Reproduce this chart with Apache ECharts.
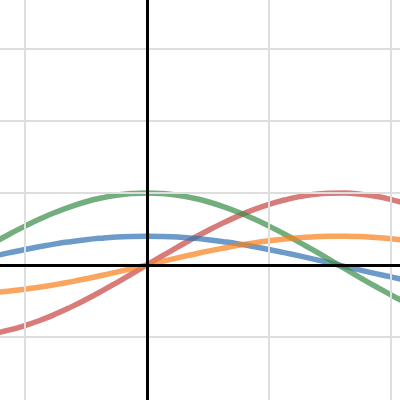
<!DOCTYPE html>
<html>
<head>
<meta charset="utf-8">
<script src="https://cdn.jsdelivr.net/npm/echarts@6/dist/echarts.min.js"></script>
<style>html,body{margin:0;padding:0;background:#fff}#c{width:400px;height:400px}</style>
</head>
<body>
<div id="c"></div>
<script>
var xs = [-1.25, -1.125, -1, -0.875, -0.75, -0.625, -0.5, -0.375, -0.25, -0.125, 0, 0.125, 0.25, 0.375, 0.5, 0.625, 0.75, 0.875, 1, 1.125, 1.25, 1.375, 1.5, 1.625, 1.75, 1.875, 2, 2.125, 2.25];
var redVals = [-0.949, -0.902, -0.841, -0.768, -0.682, -0.585, -0.479, -0.366, -0.247, -0.125, 0, 0.125, 0.247, 0.366, 0.479, 0.585, 0.682, 0.768, 0.841, 0.902, 0.949, 0.981, 0.997, 0.999, 0.984, 0.954, 0.909, 0.851, 0.778];
var greenVals = [0.315, 0.431, 0.540, 0.641, 0.732, 0.811, 0.878, 0.930, 0.969, 0.992, 1.0, 0.992, 0.969, 0.930, 0.878, 0.811, 0.732, 0.641, 0.540, 0.431, 0.315, 0.195, 0.071, -0.054, -0.178, -0.299, -0.416, -0.526, -0.628];
var orangeVals = [-0.380, -0.361, -0.337, -0.307, -0.273, -0.234, -0.192, -0.146, -0.099, -0.050, 0, 0.050, 0.099, 0.146, 0.192, 0.234, 0.273, 0.307, 0.337, 0.361, 0.380, 0.392, 0.399, 0.400, 0.394, 0.382, 0.364, 0.340, 0.311];
var blueVals = [0.126, 0.172, 0.216, 0.256, 0.293, 0.324, 0.351, 0.372, 0.388, 0.397, 0.400, 0.397, 0.388, 0.372, 0.351, 0.324, 0.293, 0.256, 0.216, 0.172, 0.126, 0.078, 0.028, -0.022, -0.071, -0.120, -0.166, -0.210, -0.251];
var gridXs = [-1, 1, 2];
var gridYs = [-1, 1, 2, 3];
var xMin = -1.205, xMax = 2.074, yMin = -1.875, yMax = 3.68;

function pairs(v){ return xs.map(function(x,i){ return [x, v[i]]; }); }
function line(name, color, vals){
  return { name: name, type: 'line', data: pairs(vals), smooth: true, symbol: 'none', z: 3,
    lineStyle: { color: color, width: 5.5, opacity: 0.7, cap: 'round' }, clip: true, silent: true };
}
function vLines(arr){ return arr.map(function(v){ return { xAxis: v }; }); }
function hLines(arr){ return arr.map(function(v){ return { yAxis: v }; }); }
var chart = echarts.init(document.getElementById('c'));
chart.setOption({
  animation: false,
  backgroundColor: '#fff',
  grid: { left: 0, top: 0, right: 0, bottom: 0, containLabel: false },
  xAxis: { type: 'value', min: xMin, max: xMax,
    axisLine: { show: false }, axisTick: { show: false }, axisLabel: { show: false }, splitLine: { show: false } },
  yAxis: { type: 'value', min: yMin, max: yMax,
    axisLine: { show: false }, axisTick: { show: false }, axisLabel: { show: false }, splitLine: { show: false } },
  series: [
    { name: 'grid', type: 'line', data: [], z: 1, silent: true,
      markLine: { silent: true, symbol: ['none', 'none'], animation: false, label: { show: false },
        lineStyle: { color: '#dedede', width: 2, type: 'solid' },
        data: vLines(gridXs).concat(hLines(gridYs)) } },
    { name: 'axes', type: 'line', data: [], z: 2, silent: true,
      markLine: { silent: true, symbol: ['none', 'none'], animation: false, label: { show: false },
        lineStyle: { color: '#000', width: 3, type: 'solid' },
        data: [{ xAxis: 0 }, { yAxis: 0 }] } },
    line('red', '#c74440', redVals),
    line('blue', '#2d70b3', blueVals),
    line('green', '#388c46', greenVals),
    line('orange', '#fa7e19', orangeVals)
  ]
});
</script>
</body>
</html>
